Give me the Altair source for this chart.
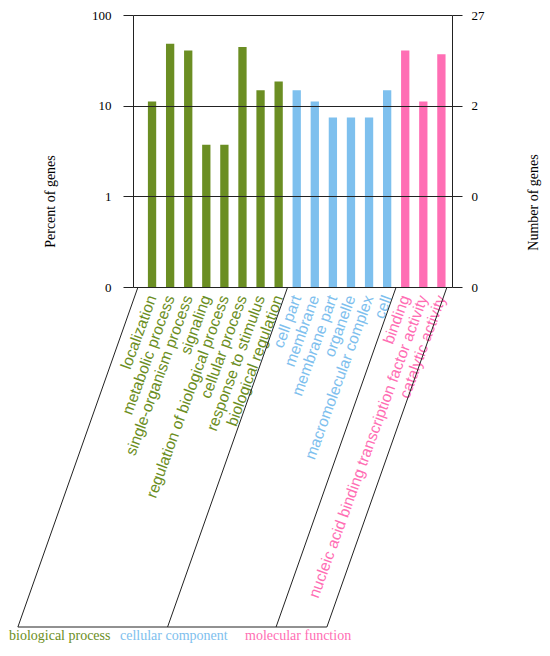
import altair as alt
import pandas as pd

categories = [
    "localization", "metabolic process", "single-organism process", "signaling",
    "regulation of biological process", "cellular process", "response to stimulus",
    "biological regulation",
    "cell part", "membrane", "membrane part", "organelle", "macromolecular complex", "cell",
    "binding", "nucleic acid binding transcription factor activity", "catalytic activity",
]
group_names = ["biological process", "cellular component", "molecular function"]
group_sizes = [8, 6, 3]
group_colors = ["#6B8E23", "#7EC0EE", "#FF6EB4"]
percent = [11.1, 48.1, 40.7, 3.7, 3.7, 44.4, 14.8, 18.5,
           14.8, 11.1, 7.4, 7.4, 7.4, 14.8,
           40.7, 11.1, 37.0]
left_tick_values = [0.1, 1, 10, 100]

groups = []
for g, n in zip(group_names, group_sizes):
    groups += [g] * n

df = pd.DataFrame({"idx": list(range(len(categories))), "category": categories,
                   "group": groups, "percent": percent})

W, H = 319, 272
xdom = [-0.777, 16.31]
step = W / (xdom[1] - xdom[0])
depth_px = 340
slant_px = 124
shift = slant_px / step

xsc = alt.Scale(domain=xdom, nice=False, zero=False)
ysc = alt.Scale(type="log", domain=[0.1, 100], nice=False)
csc = alt.Scale(domain=group_names, range=group_colors)
LINE = "#222222"
SERIF = "Liberation Serif"

common_axis = dict(values=left_tick_values, tickSize=10, tickColor=LINE, domainColor=LINE,
                   labelFont=SERIF, labelFontSize=13, labelColor="#000000",
                   titleFont=SERIF, titleFontSize=14, titleFontWeight="normal",
                   titleColor="#000000", titleAngle=270, titleAlign="center",
                   titleBaseline="middle")

bars = alt.Chart(df).mark_bar(size=8.3).encode(
    x=alt.X("idx:Q", scale=xsc, axis=None),
    y=alt.Y("percent:Q", scale=ysc, stack=None, axis=alt.Axis(
        orient="left", grid=True, gridColor=LINE, gridOpacity=1, zindex=1,
        labelExpr="datum.value < 0.5 ? '0' : format(datum.value, 'd')",
        labelPadding=12, title="Percent of genes", titleX=-83, titleY=186,
        **common_axis)),
    color=alt.Color("group:N", scale=csc, legend=None),
)

right = alt.Chart(df).mark_bar(size=8.3, opacity=0).encode(
    x=alt.X("idx:Q", scale=xsc, axis=None),
    y=alt.Y("percent:Q", scale=ysc, stack=None, axis=alt.Axis(
        orient="right", grid=False,
        labelExpr="datum.value >= 50 ? '27' : datum.value >= 5 ? '2' : '0'",
        labelPadding=9, title="Number of genes", titleX=81, titleY=187,
        **common_axis)),
)

labels = alt.Chart(df).mark_text(
    angle=290, align="right", baseline="middle", font="Liberation Sans", fontSize=15.6
).encode(
    x=alt.X("idx:Q", scale=xsc, axis=None),
    y=alt.value(H + 9),
    text="category:N",
    color=alt.Color("group:N", scale=csc, legend=None),
)

bounds = [xdom[0]]
c = 0
for n in group_sizes[:-1]:
    c += n
    bounds.append(c - 0.5)
bounds.append(xdom[1])
bdf = pd.DataFrame({"b": bounds, "b2": [v - shift for v in bounds]})

slants = alt.Chart(bdf).mark_rule(color=LINE, strokeWidth=1).encode(
    x=alt.X("b:Q", scale=xsc, axis=None), x2="b2:Q",
    y=alt.value(H), y2=alt.value(H + depth_px),
)
bottom = alt.Chart(pd.DataFrame({"a": [bounds[0] - shift], "e": [bounds[-1] - shift]})).mark_rule(
    color=LINE, strokeWidth=1).encode(
    x=alt.X("a:Q", scale=xsc, axis=None), x2="e:Q", y=alt.value(H + depth_px),
)

glabel_x = [-124, -13, 112]
glayers = []
for name, col, px in zip(group_names, group_colors, glabel_x):
    glayers.append(
        alt.Chart(pd.DataFrame({"t": [name]})).mark_text(
            align="left", baseline="alphabetic", font=SERIF, fontSize=14, color=col
        ).encode(x=alt.value(px), y=alt.value(H + 353), text="t:N")
    )

chart = alt.layer(bars, right, labels, slants, bottom, *glayers).resolve_axis(
    y="independent"
).properties(
    width=W, height=H, autosize="none",
    padding={"left": 125, "top": 7, "right": 90, "bottom": 357},
).configure_view(stroke=None)

chart.save("out.html", embed_options={"renderer": "svg", "actions": False})
